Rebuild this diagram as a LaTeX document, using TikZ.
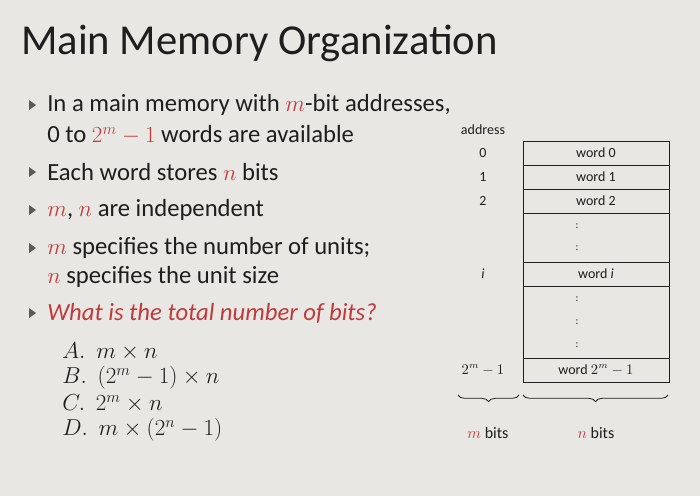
\documentclass[tikz,border=0pt]{standalone}
\usepackage{fontspec}
\setmainfont{Carlito}
\usetikzlibrary{decorations.pathreplacing}
\definecolor{bg}{HTML}{E9E7E3}
\definecolor{rd}{HTML}{C0393B}
\definecolor{tx}{HTML}{1E1E1E}
\newcommand{\rv}[1]{\textcolor{rd}{$#1$}}
\tikzset{
 bul/.style={fill=gray!70!black},
 item/.style={anchor=west,font=\fontsize{18.5}{20}\selectfont,text=tx,inner sep=0},
 opt/.style={anchor=west,font=\fontsize{18}{20}\selectfont,text=tx,inner sep=0},
 small/.style={font=\fontsize{10.5}{12}\selectfont,text=tx,inner sep=0},
 dots/.style={font=\fontsize{8}{8}\selectfont,text=tx,inner sep=0},
 brace/.style={decorate,decoration={brace,mirror,amplitude=5pt},line width=0.6pt,draw=tx}
}
\begin{document}
\begin{tikzpicture}[x=0.75pt,y=-0.75pt]
\fill[bg] (0,0) rectangle (700,496);
\useasboundingbox (0,0) rectangle (700,496);
\node[anchor=west,font=\fontsize{32}{36}\selectfont,text=tx,inner sep=0] (title) at (21,43) {Main Memory Organization};
\foreach \y in {105,172,210,248,313}{\fill[bul] (29,\y-5) -- (36,\y) -- (29,\y+5) -- cycle;}
\node[item] (b1) at (47,105) {In a main memory with \rv{m}-bit addresses,};
\node[item] (b1b) at (47,135) {0 to \rv{2^m-1} words are available};
\node[item] (b2) at (47,172) {Each word stores \rv{n} bits};
\node[item] (b3) at (47,210) {\rv{m}, \rv{n} are independent};
\node[item] (b4) at (47,248) {\rv{m} specifies the number of units;};
\node[item] (b4b) at (47,277) {\rv{n} specifies the unit size};
\node[item,text=rd] (b5) at (47,313) {\itshape What is the total number of bits?};
\node[opt] (oa) at (62,352) {$A.\ \ m\times n$};
\node[opt] (ob) at (62,378) {$B.\ \ (2^m-1)\times n$};
\node[opt] (oc) at (62,404) {$C.\ \ 2^m\times n$};
\node[opt] (od) at (62,430) {$D.\ \ m\times(2^n-1)$};
% table
\draw[line width=0.7pt,draw=tx] (523,141) rectangle (669,382);
\foreach \y in {165,189,213,262,286,358}{\draw[line width=0.7pt,draw=tx] (523,\y) -- (669,\y);}
\node[small] (w0) at (596,153) {word 0};
\node[small] (w1) at (596,177) {word 1};
\node[small] (w2) at (596,201) {word 2};
\node[small] (wi) at (596,274) {word \textit{i}};
\node[small] (wl) at (596,370) {word $2^m-1$};
\foreach \y in {226,248,299,322,345}{\node[dots] at (577,\y) {:};}
\node[small] (addr) at (483,130) {address};
\node[small] (a0) at (483,153) {0};
\node[small] (a1) at (483,177) {1};
\node[small] (a2) at (483,201) {2};
\node[small] (ai) at (483,274) {\textit{i}};
\node[small] (al) at (483,370) {$2^m-1$};
\coordinate (l1) at (458,395); \coordinate (l2) at (519,395);
\coordinate (r1) at (523,395); \coordinate (r2) at (668,395);
\draw[brace] (l1) -- (l2);
\draw[brace] (r1) -- (r2);
\node[small,font=\fontsize{12}{14}\selectfont] (mb) at (488,433) {\rv{m} bits};
\node[small,font=\fontsize{12}{14}\selectfont] (nb) at (596,433) {\rv{n} bits};
\end{tikzpicture}
\end{document}
